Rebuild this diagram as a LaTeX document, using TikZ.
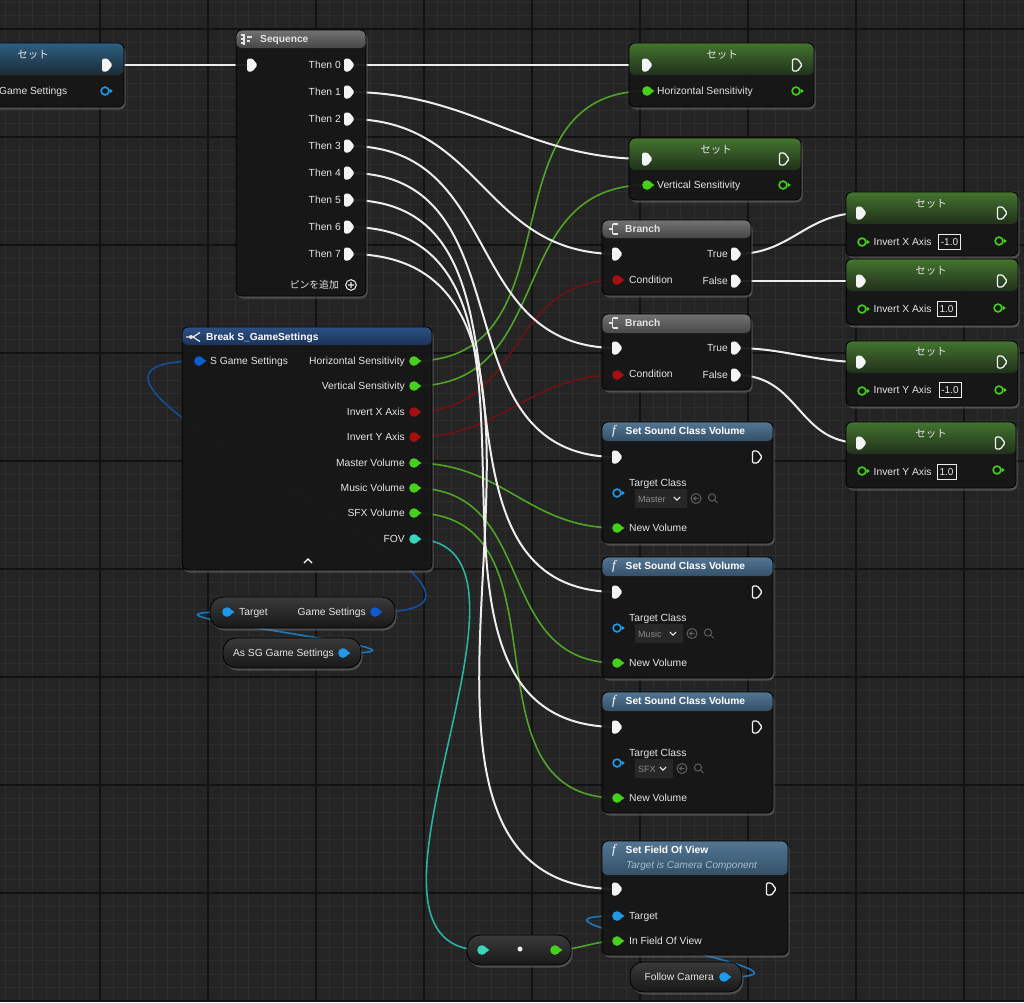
\documentclass[tikz,border=0pt]{standalone}
\usepackage{fontspec}
\setmainfont{Liberation Sans}
\newfontfamily\jp{Noto Sans CJK JP}
\newfontfamily\fsym{Liberation Serif}
\usetikzlibrary{calc,shadows}
\definecolor{bg}{HTML}{242424}
\definecolor{gridminor}{HTML}{2E2E2E}
\definecolor{gridmajor}{HTML}{121212}
\definecolor{bodyc}{HTML}{121212}
\definecolor{txt}{HTML}{E4E4E4}
\definecolor{pwhite}{HTML}{F4F4F4}
\definecolor{wwhite}{HTML}{EDEDED}
\definecolor{pgreen}{HTML}{45D01E}
\definecolor{wgreen}{HTML}{4FA427}
\definecolor{pred}{HTML}{A50F0F}
\definecolor{wred}{HTML}{6E1212}
\definecolor{pblue}{HTML}{1E9AE8}
\definecolor{wblue}{HTML}{1B78BD}
\definecolor{pdblue}{HTML}{0D5BD0}
\definecolor{wdblue}{HTML}{134E9A}
\definecolor{pteal}{HTML}{37D6BD}
\definecolor{wteal}{HTML}{2AB39A}
\definecolor{setgreen}{HTML}{5AA03C}
\definecolor{setblue}{HTML}{3A82B4}
\definecolor{grey1}{HTML}{959595}
\definecolor{grey2}{HTML}{353535}
\definecolor{func1}{HTML}{6B96BA}
\definecolor{func2}{HTML}{27425A}
\definecolor{brk1}{HTML}{3768AA}
\definecolor{brk2}{HTML}{152646}
\definecolor{pill1}{HTML}{3A3A3A}
\definecolor{pill2}{HTML}{181818}
\definecolor{ddbg}{HTML}{272727}
\definecolor{ddtxt}{HTML}{8A8A8A}
\definecolor{icon}{HTML}{5E5E5E}
\definecolor{subtl}{HTML}{A9BCCD}

\tikzset{
  bpbase/.style={draw=black, line width=0.8pt, rounded corners=6pt, fill=bodyc, fill opacity=0.9,
    inner sep=0pt, outer sep=0pt, drop shadow={opacity=0.45, shadow xshift=1.5pt, shadow yshift=-2.5pt}},
  hdr/.style n args={3}{path picture={\begin{scope}
    \clip (path picture bounding box.north west) rectangle ([yshift=-#3pt]path picture bounding box.north east);
    \shade[top color=#1, bottom color=#2]
    ([yshift=0.5*#3pt]path picture bounding box.north west) rectangle ([yshift=-1.5*#3pt]path picture bounding box.north east);
    \end{scope}}},
  sethdr/.style={path picture={\begin{scope}
    \clip (path picture bounding box.north west) rectangle ([yshift=-32pt]path picture bounding box.north east);
    \shade[top color=#1, bottom color=bodyc]
    ([yshift=14pt]path picture bounding box.north west) rectangle ([yshift=-46pt]path picture bounding box.north east);
    \end{scope}}},
  pill/.style={draw=black, line width=0.8pt, rounded corners=13pt, top color=pill1, bottom color=pill2,
    inner sep=0pt, outer sep=0pt, drop shadow={opacity=0.45, shadow xshift=1.5pt, shadow yshift=-2.5pt}},
  lbl/.style={text=txt, font=\fontsize{10.3}{12}\selectfont, inner sep=0pt, text height=7.4pt, text depth=0pt},
  ttl/.style={text=white, font=\fontsize{10.2}{12}\selectfont\bfseries, inner sep=0pt, text height=7.4pt, text depth=0pt},
  jtl/.style={text=txt, font=\jp\fontsize{10.5}{12}\selectfont, inner sep=0pt},
  valbox/.style={draw=txt!70, line width=0.7pt, inner xsep=2.5pt, inner ysep=0pt, minimum height=15pt, text=txt!90,
    font=\fontsize{10}{12}\selectfont, text height=7.2pt, text depth=0pt},
  exw/.style={draw=wwhite, line width=2pt},
  gw/.style={draw=wgreen, line width=1.6pt},
  rw/.style={draw=wred, line width=1.6pt},
  tw/.style={draw=wteal, line width=1.6pt},
  bw/.style={draw=wblue, line width=1.6pt},
  dbw/.style={draw=wdblue, line width=1.6pt},
  pics/execf/.style={code={\fill[pwhite, rounded corners=1.5pt] (-5,-6.5) -- (0.5,-6.5) -- (5.5,0) -- (0.5,6.5) -- (-5,6.5) -- cycle;}},
  pics/execo/.style={code={\draw[pwhite, line width=1.3pt, rounded corners=1.2pt] (-4.5,-6) -- (0.5,-6) -- (5,0) -- (0.5,6) -- (-4.5,6) -- cycle;}},
  pics/dataf/.style={code={\fill[#1] (0,0) circle (4.8); \fill[#1] (3.8,-2.6) -- (7.4,0) -- (3.8,2.6) -- cycle;}},
  pics/datao/.style={code={\draw[#1, line width=1.6pt] (0,0) circle (3.9); \fill[#1] (4.6,-2.4) -- (7.8,0) -- (4.6,2.4) -- cycle;}},
}
\newcommand\bpbox[6]{\node[bpbase,#6,anchor=north west,minimum width={(#4)-(#2)},minimum height={(#5)-(#3)}] (#1) at (#2,#3) {};}
\newcommand\bppill[5]{\node[pill,anchor=north west,minimum width={(#4)-(#2)},minimum height={(#5)-(#3)}] (#1) at (#2,#3) {};}
\newcommand\bpwire[3]{\draw[#1] let \p1=(#2), \p2=(#3),
  \n1={ifthenelse(\x2>\x1, (abs(\x2-\x1)+abs(\y2-\y1))/3, min(abs(\x2-\x1),200)+0.5*min(abs(\y2-\y1),200))} in
  (\p1) .. controls (\x1+\n1,\y1) and (\x2-\n1,\y2) .. (\p2);}
\newcommand\ddown[5]{% x1,y1,x2,label,chevronx
  \fill[ddbg] (#1,#2) rectangle (#3,#2+19);
  \node[lbl,text=ddtxt,font=\fontsize{9}{11}\selectfont,anchor=west] at (#1+3,#2+9.5) {#4};
  \draw[txt!70,line width=1.1pt] (#5-3.2,#2+8) -- (#5,#2+11) -- (#5+3.2,#2+8);
  \draw[icon,line width=1pt] (#3+9,#2+9.5) circle (5);
  \draw[icon,line width=0.9pt] (#3+6.5,#2+9.5) -- (#3+11.5,#2+9.5) (#3+9,#2+7.5) -- (#3+6.5,#2+9.5) -- (#3+9,#2+11.5);
  \draw[icon,line width=1pt] (#3+25,#2+8.5) circle (3.6) (#3+27.6,#2+11.1) -- (#3+30.5,#2+14);
}

\begin{document}
\begin{tikzpicture}[x=1pt,y=-1pt]
\useasboundingbox (0,0) rectangle (1024,1002);
\clip (0,0) rectangle (1024,1002);
\fill[bg] (0,0) rectangle (1024,1002);
\foreach \i in {0,...,76} {\draw[gridminor,line width=1pt] ({5.5+13.5*\i},0) -- ++(0,1002);}
\foreach \i in {0,...,74} {\draw[gridminor,line width=1pt] (0,{2+13.5*\i}) -- ++(1024,0);}
\foreach \i in {0,...,9} {\draw[gridmajor,line width=1.6pt] ({-8+108*\i},0) -- ++(0,1002);
  \draw[gridmajor,line width=1.6pt] (0,{29+108*\i}) -- ++(1024,0);}

% ---------- pin coordinates ----------
\coordinate (set0-out) at (107,65); \coordinate (set0-val) at (105,91);
\coordinate (seq-in) at (252,65);
\foreach \k/\yy in {0/65,1/92,2/119,3/146,4/173,5/200,6/227,7/254} {\coordinate (seq-t\k) at (349,\yy);}
\coordinate (shs-in) at (647,65); \coordinate (shs-out) at (797,65); \coordinate (shs-val) at (647,91); \coordinate (shs-ret) at (796,91);
\coordinate (svs-in) at (647,159); \coordinate (svs-out) at (784,159); \coordinate (svs-val) at (647,185); \coordinate (svs-ret) at (783,185);
\coordinate (br1-in) at (617,254); \coordinate (br1-true) at (736,254); \coordinate (br1-cond) at (617,280); \coordinate (br1-false) at (736,281);
\coordinate (br2-in) at (617,348); \coordinate (br2-true) at (736,348); \coordinate (br2-cond) at (617,375); \coordinate (br2-false) at (736,375);
\coordinate (ixm-in) at (861,213); \coordinate (ixm-out) at (1002,213); \coordinate (ixm-val) at (862,242); \coordinate (ixm-ret) at (999,241);
\coordinate (ixp-in) at (861,281); \coordinate (ixp-out) at (1002,281); \coordinate (ixp-val) at (862,309); \coordinate (ixp-ret) at (998,308);
\coordinate (iym-in) at (861,362); \coordinate (iym-out) at (1002,362); \coordinate (iym-val) at (862,391); \coordinate (iym-ret) at (999,390);
\coordinate (iyp-in) at (861,443); \coordinate (iyp-out) at (1000,443); \coordinate (iyp-val) at (862,471); \coordinate (iyp-ret) at (997,470);
\coordinate (sv1-in) at (617,457); \coordinate (sv1-out) at (757,457); \coordinate (sv1-cls) at (617,493); \coordinate (sv1-vol) at (617,528);
\coordinate (sv2-in) at (617,592); \coordinate (sv2-out) at (757,592); \coordinate (sv2-cls) at (617,628); \coordinate (sv2-vol) at (617,663);
\coordinate (sv3-in) at (617,727); \coordinate (sv3-out) at (757,727); \coordinate (sv3-cls) at (617,763); \coordinate (sv3-vol) at (617,798);
\coordinate (fov-in) at (617,889); \coordinate (fov-out) at (771,889); \coordinate (fov-tgt) at (617,916); \coordinate (fov-val) at (617,941);
\coordinate (fc-out) at (724,977);
\coordinate (brk-in) at (199,361);
\coordinate (brk-hs) at (414,361); \coordinate (brk-vs) at (414,386); \coordinate (brk-ix) at (414,412); \coordinate (brk-iy) at (414,437);
\coordinate (brk-mv) at (414,463); \coordinate (brk-mu) at (414,488); \coordinate (brk-sfx) at (414,513); \coordinate (brk-fov) at (414,539);
\coordinate (gs-tgt) at (227,612); \coordinate (gs-out) at (375,612);
\coordinate (asg-out) at (343,653);
\coordinate (rr-in) at (482,950); \coordinate (rr-out) at (555,950);

% ---------- wires ----------
\draw[dbw] (gs-out) .. controls ($(gs-out)+(230,0)$) and ($(brk-in)-(230,0)$) .. (brk-in);
\bpwire{bw}{asg-out}{gs-tgt}
\bpwire{bw}{fc-out}{fov-tgt}
\bpwire{gw}{brk-hs}{shs-val}
\bpwire{gw}{brk-vs}{svs-val}
\bpwire{rw}{brk-ix}{br1-cond}
\bpwire{rw}{brk-iy}{br2-cond}
\bpwire{gw}{brk-mv}{sv1-vol}
\bpwire{gw}{brk-mu}{sv2-vol}
\bpwire{gw}{brk-sfx}{sv3-vol}
\bpwire{tw}{brk-fov}{rr-in}
\bpwire{gw}{rr-out}{fov-val}
\bpwire{exw}{set0-out}{seq-in}
\bpwire{exw}{seq-t0}{shs-in}
\bpwire{exw}{seq-t1}{svs-in}
\bpwire{exw}{seq-t2}{br1-in}
\bpwire{exw}{seq-t3}{br2-in}
\bpwire{exw}{seq-t4}{sv1-in}
\bpwire{exw}{seq-t5}{sv2-in}
\bpwire{exw}{seq-t6}{sv3-in}
\bpwire{exw}{seq-t7}{fov-in}
\bpwire{exw}{br1-true}{ixm-in}
\bpwire{exw}{br1-false}{ixp-in}
\bpwire{exw}{br2-true}{iym-in}
\bpwire{exw}{br2-false}{iyp-in}

% ---------- node bodies ----------
\bpbox{set0}{-12}{43}{124}{107}{sethdr=setblue}
\bpbox{seq}{236}{30}{366}{296}{hdr={grey1}{grey2}{18}}
\bpbox{shs}{629}{43}{814}{107}{sethdr=setgreen}
\bpbox{svs}{629}{138}{801}{200}{sethdr=setgreen}
\bpbox{br1}{602}{220}{751}{295}{hdr={grey1}{grey2}{18}}
\bpbox{br2}{602}{314}{751}{390}{hdr={grey1}{grey2}{19}}
\bpbox{ixm}{846}{192}{1018}{256}{sethdr=setgreen}
\bpbox{ixp}{846}{259}{1018}{325}{sethdr=setgreen}
\bpbox{iym}{846}{341}{1018}{406}{sethdr=setgreen}
\bpbox{iyp}{846}{422}{1016}{488}{sethdr=setgreen}
\bpbox{sv1}{602}{422}{773}{543}{hdr={func1}{func2}{19}}
\bpbox{sv2}{602}{557}{773}{678}{hdr={func1}{func2}{19}}
\bpbox{sv3}{602}{692}{773}{813}{hdr={func1}{func2}{19}}
\bpbox{fov}{602}{841}{788}{955}{hdr={func1}{func2}{34}}
\bpbox{brk}{182}{327}{432}{570}{hdr={brk1}{brk2}{18}}
\bppill{gs}{210}{597}{395}{628}
\bppill{asg}{223}{638}{361}{668}
\bppill{fc}{630}{962}{742}{992}
\bppill{rr}{467}{935}{571}{965}

% ---------- left Set ----------
\node[jtl] at (33,55) {セット};
\pic at (set0-out) {execf};
\node[lbl,anchor=west] at (-1,91) {Game Settings};
\pic at (set0-val) {datao=pblue};

% ---------- Sequence ----------
\draw[txt,line width=1.2pt] (244,33.5) -- (244,44.5);
\draw[txt,line width=1.2pt] (241,35) -- (244,35) (241,39) -- (244,39) (241,43) -- (244,43);
\draw[txt,line width=1.2pt] (246.5,37) -- (252,37) (246.5,41) -- (250,41);
\node[ttl,text=txt,anchor=west] at (260,39) {Sequence};
\pic at (seq-in) {execf};
\foreach \k/\yy in {0/65,1/92,2/119,3/146,4/173,5/200,6/227,7/254} {
  \node[lbl,anchor=east] at (341,\yy) {Then \k};
  \pic at (seq-t\k) {execf};}
\node[jtl,anchor=east,font=\jp\fontsize{9.8}{12}\selectfont] at (339,285) {ピンを追加};
\draw[txt,line width=1.1pt] (351,285) circle (5.3) (348,285) -- (354,285) (351,282) -- (351,288);

% ---------- Set Horizontal / Vertical ----------
\node[jtl] at (722,55) {セット};
\pic at (shs-in) {execf}; \pic at (shs-out) {execo};
\pic at (shs-val) {dataf=pgreen};
\node[lbl,anchor=west] at (657,91) {Horizontal Sensitivity};
\pic at (shs-ret) {datao=pgreen};
\node[jtl] at (716,150) {セット};
\pic at (svs-in) {execf}; \pic at (svs-out) {execo};
\pic at (svs-val) {dataf=pgreen};
\node[lbl,anchor=west] at (657,185) {Vertical Sensitivity};
\pic at (svs-ret) {datao=pgreen};

% ---------- Branches ----------
\foreach \b/\hy in {br1/229,br2/323} {
  \draw[txt,line width=1.3pt] (612.5,\hy-5) -- (612.5,\hy+5) (612.5,\hy-5) -- (618,\hy-5) (612.5,\hy+5) -- (618,\hy+5) (609,\hy) -- (612.5,\hy);
  \node[ttl,text=txt,anchor=west] at (625,\hy) {Branch};
  \pic at (\b-in) {execf};
  \node[lbl,anchor=east] at (728,\hy+25) {True};
  \pic at (\b-true) {execf};
  \pic at (\b-cond) {dataf=pred};
  \node[lbl,anchor=west] at (629,\hy+51) {Condition};
  \node[lbl,anchor=east] at (728,\hy+52) {False};
  \pic at (\b-false) {execf};}

% ---------- Set Invert X / Y ----------
\foreach \n/\ty/\lab/\val/\bx in {ixm/204/X/-1.0/949.5,ixp/271/X/1.0/946.5,iym/352/Y/-1.0/950,iyp/434/Y/1.0/946.5} {
  \node[jtl] at (931,\ty) {セット};
  \pic at (\n-in) {execf}; \pic at (\n-out) {execo};
  \pic at (\n-val) {datao=pgreen};
  \node[lbl,anchor=west] at (873.5,\ty+38) {Invert \lab\ Axis};
  \node[valbox] at (\bx,\ty+38) {\val};
  \pic at (\n-ret) {datao=pgreen};}

% ---------- Set Sound Class Volume ----------
\foreach \n/\hy/\dd/\dx/\cx in {sv1/431/Master/687/677,sv2/566/Music/683/673,sv3/701/SFX/673/663} {
  \node[text=white,font=\fsym\itshape\fontsize{13}{14}\selectfont,inner sep=0pt] at (614,\hy) {f};
  \node[ttl,anchor=west] at (625.5,\hy) {Set Sound Class Volume};
  \pic at (\n-in) {execf}; \pic at (\n-out) {execo};
  \node[lbl,anchor=west] at (629,\hy+52) {Target Class};
  \pic at (\n-cls) {datao=pblue};
  \ddown{635}{\hy+58}{\dx}{\dd}{\cx}
  \pic at (\n-vol) {dataf=pgreen};
  \node[lbl,anchor=west] at (629,\hy+97) {New Volume};}

% ---------- Set Field Of View ----------
\node[text=white,font=\fsym\itshape\fontsize{13}{14}\selectfont,inner sep=0pt] at (614,850) {f};
\node[ttl,anchor=west] at (625.5,850) {Set Field Of View};
\node[lbl,anchor=west,text=subtl,font=\fontsize{10}{12}\selectfont\itshape] at (626,865) {Target is Camera Component};
\pic at (fov-in) {execf}; \pic at (fov-out) {execo};
\pic at (fov-tgt) {dataf=pblue};
\node[lbl,anchor=west] at (629,916) {Target};
\pic at (fov-val) {dataf=pgreen};
\node[lbl,anchor=west] at (629,941) {In Field Of View};
\node[lbl,anchor=east] at (714,977) {Follow Camera};
\pic at (fc-out) {dataf=pblue};

% ---------- Break S_GameSettings ----------
\fill[txt] (191,337) circle (2);
\draw[txt,line width=1.3pt] (193,337) -- (200,332.5) (193,337) -- (200,341.5) (186,337) -- (191,337);
\node[ttl,anchor=west] at (206,337) {Break S\_GameSettings};
\pic at (brk-in) {dataf=pdblue};
\node[lbl,anchor=west] at (210,361) {S Game Settings};
\foreach \p/\lab/\c in {hs/Horizontal Sensitivity/pgreen,vs/Vertical Sensitivity/pgreen,ix/Invert X Axis/pred,iy/Invert Y Axis/pred,mv/Master Volume/pgreen,mu/Music Volume/pgreen,sfx/SFX Volume/pgreen,fov/FOV/pteal} {
  \path (brk-\p) ++(-9,0) node[lbl,anchor=east] {\lab};
  \pic at (brk-\p) {dataf=\c};}
\draw[white,line width=1.3pt] (304,563) -- (308,559) -- (312,563);

% ---------- pills ----------
\pic at (gs-tgt) {dataf=pblue};
\node[lbl,anchor=west] at (239,612) {Target};
\node[lbl,anchor=east] at (366,612) {Game Settings};
\pic at (gs-out) {dataf=pdblue};
\node[lbl,anchor=east] at (334,653) {As SG Game Settings};
\pic at (asg-out) {dataf=pblue};
\pic at (rr-in) {dataf=pteal};
\fill[txt!70] (520,949) circle (2.5);
\pic at (rr-out) {dataf=pgreen};
\end{tikzpicture}
\end{document}
